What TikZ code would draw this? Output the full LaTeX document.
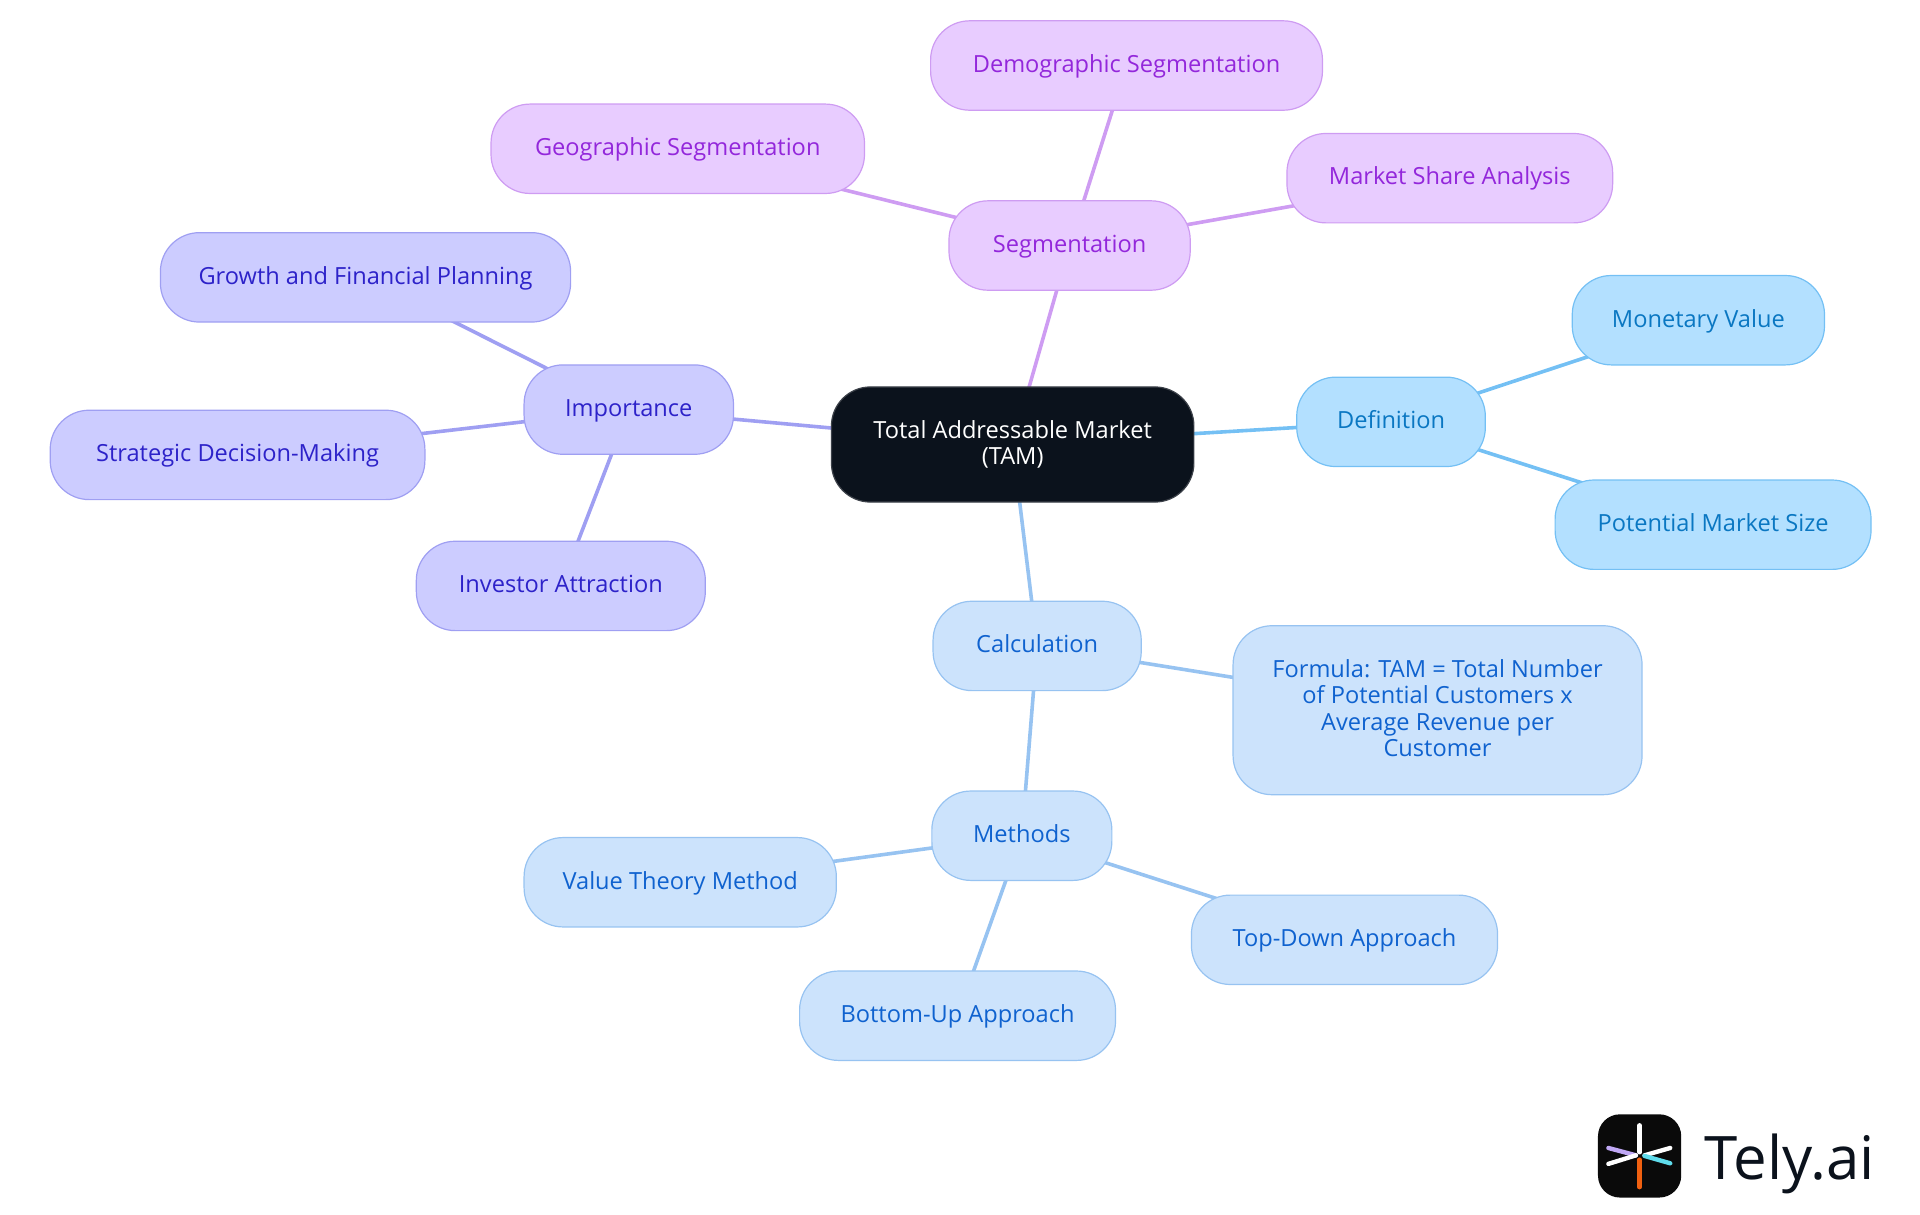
\documentclass[tikz,border=0pt]{standalone}
\usepackage{fontspec}
\setmainfont{Open Sans}
\usetikzlibrary{backgrounds}
\definecolor{rootfill}{HTML}{0B121C}
\definecolor{bluefill}{HTML}{B3E0FF}\definecolor{bluedraw}{HTML}{74C0F4}\definecolor{bluetext}{HTML}{0A77C2}
\definecolor{skyfill}{HTML}{CCE3FC}\definecolor{skydraw}{HTML}{97C3F1}\definecolor{skytext}{HTML}{0F62CF}
\definecolor{indfill}{HTML}{CCCCFF}\definecolor{inddraw}{HTML}{9F9FF2}\definecolor{indtext}{HTML}{2D22C9}
\definecolor{purfill}{HTML}{E8CCFF}\definecolor{purdraw}{HTML}{CE9CF2}\definecolor{purtext}{HTML}{9327DB}
\definecolor{logopurple}{HTML}{C0A8F5}\definecolor{logocyan}{HTML}{5FDCEC}\definecolor{logoorange}{HTML}{F06010}
\tikzset{
 x=0.61224pt,y=-0.61224pt,
 nodebase/.style={rectangle,rounded corners=19.5pt,line width=0.6pt,align=center,inner sep=0pt,font=\fontsize{11.8}{13.3}\selectfont},
 oneline/.style={text height=9pt,text depth=2.2pt},
 rootnode/.style={nodebase,fill=rootfill,draw=rootfill!80!white,text=white},
 bluenode/.style={nodebase,fill=bluefill,draw=bluedraw,text=bluetext},
 skynode/.style={nodebase,fill=skyfill,draw=skydraw,text=skytext},
 indnode/.style={nodebase,fill=indfill,draw=inddraw,text=indtext},
 purnode/.style={nodebase,fill=purfill,draw=purdraw,text=purtext},
 bluelink/.style={draw=bluedraw,line width=1.8pt},
 skylink/.style={draw=skydraw,line width=1.8pt},
 indlink/.style={draw=inddraw,line width=1.8pt},
 purlink/.style={draw=purdraw,line width=1.8pt},
 spoke/.style={line width=2.2pt,line cap=round},
}
\newcommand{\mapnode}[7]{%
 \pgfmathsetmacro{\mw}{(#5-#3)*0.61224}\pgfmathsetmacro{\mh}{(#6-#4)*0.61224}%
 \pgfmathsetmacro{\mx}{(#3+#5)/2}\pgfmathsetmacro{\my}{(#4+#6)/2}%
 \node[#2,minimum width=\mw pt,minimum height=\mh pt] (#1) at (\mx,\my) {#7};}
\begin{document}
\begin{tikzpicture}
\useasboundingbox (0,0) rectangle (1568.0,992.2);
\mapnode{root}{rootnode}{679}{316}{975}{410}{\rule{0pt}{10pt}Total Addressable Market\\(TAM)\rule[-3pt]{0pt}{3pt}}
\mapnode{seg}{purnode,oneline}{775}{164}{972}{237}{Segmentation}
\mapnode{demo}{purnode,oneline}{760}{17}{1080}{90}{Demographic Segmentation}
\mapnode{geo}{purnode,oneline}{401}{85}{706}{158}{Geographic Segmentation}
\mapnode{msa}{purnode,oneline}{1051}{109}{1317}{182}{Market Share Analysis}
\mapnode{def}{bluenode,oneline}{1059}{308}{1213}{381}{Definition}
\mapnode{mon}{bluenode,oneline}{1284}{225}{1490}{298}{Monetary Value}
\mapnode{pot}{bluenode,oneline}{1270}{392}{1528}{465}{Potential Market Size}
\mapnode{calc}{skynode,oneline}{762}{491}{932}{564}{Calculation}
\mapnode{form}{skynode}{1007}{511}{1341}{649}{\rule{0pt}{9.7pt}Formula: TAM = Total Number\\of Potential Customers x\\Average Revenue per\\Customer\rule[-3pt]{0pt}{3pt}}
\mapnode{meth}{skynode,oneline}{761}{646}{908}{719}{Methods}
\mapnode{val}{skynode,oneline}{428}{684}{683}{757}{Value Theory Method}
\mapnode{top}{skynode,oneline}{973}{731}{1223}{804}{Top-Down Approach}
\mapnode{bot}{skynode,oneline}{653}{793}{911}{866}{Bottom-Up Approach}
\mapnode{imp}{indnode,oneline}{428}{298}{599}{371}{Importance}
\mapnode{grow}{indnode,oneline}{131}{190}{466}{263}{Growth and Financial Planning}
\mapnode{strat}{indnode,oneline}{41}{335}{347}{408}{Strategic Decision-Making}
\mapnode{inv}{indnode,oneline}{340}{442}{576}{515}{Investor Attraction}
\begin{scope}[on background layer]
\draw[purlink] (root.center) -- (seg.center);
\draw[purlink] (seg.center) -- (demo.center);
\draw[purlink] (seg.center) -- (geo.center);
\draw[purlink] (seg.center) -- (msa.center);
\draw[bluelink] (root.center) -- (def.center);
\draw[bluelink] (def.center) -- (mon.center);
\draw[bluelink] (def.center) -- (pot.center);
\draw[skylink] (root.center) -- (calc.center);
\draw[skylink] (calc.center) -- (form.center);
\draw[skylink] (calc.center) -- (meth.center);
\draw[skylink] (meth.center) -- (val.center);
\draw[skylink] (meth.center) -- (top.center);
\draw[skylink] (meth.center) -- (bot.center);
\draw[indlink] (root.center) -- (imp.center);
\draw[indlink] (imp.center) -- (grow.center);
\draw[indlink] (imp.center) -- (strat.center);
\draw[indlink] (imp.center) -- (inv.center);
\end{scope}
% logo
\fill[black!96] (1305,910) [rounded corners=11pt] rectangle (1373,978);
\draw[spoke,white] (1339,919) -- (1339,941);
\draw[spoke,draw=logoorange] (1339,947) -- (1339,969.5);
\draw[spoke,draw=logopurple] (1313.5,937.5) -- (1336,943.5);
\draw[spoke,white] (1313.5,950.5) -- (1336,943.5);
\draw[spoke,white] (1364,937.5) -- (1343,943.5);
\draw[spoke,draw=logocyan] (1343,944) -- (1364,950);
\node[inner sep=0pt,anchor=base west,text=rootfill,font=\fontsize{30}{30}\selectfont] (logo) at (1392,963) {Tely.ai};
\end{tikzpicture}
\end{document}
